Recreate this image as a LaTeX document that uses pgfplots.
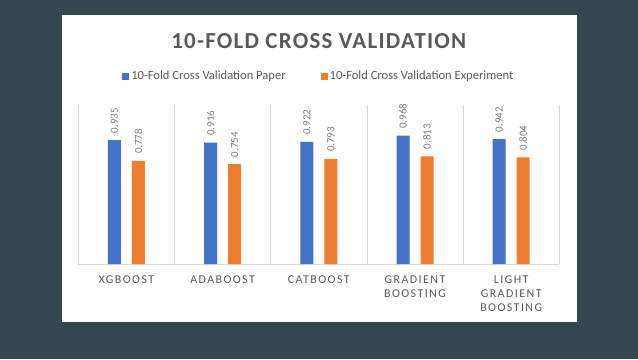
\documentclass[border=0pt]{standalone}
\usepackage{pgfplots}
\pgfplotsset{compat=1.18}
\usepackage{fontspec}
\setmainfont{Carlito}
\newfontfamily\titlefont[LetterSpace=5.5]{Carlito}
\newfontfamily\catfont[LetterSpace=12]{Carlito}
\definecolor{bg}{RGB}{52,71,79}
\definecolor{txtgray}{HTML}{595959}
\definecolor{valgray}{HTML}{7F7F7F}
\definecolor{gridgray}{HTML}{D9D9D9}
\definecolor{cblue}{HTML}{4472C4}
\definecolor{corange}{HTML}{ED7D31}
\begin{document}
\begin{tikzpicture}[x=1bp,y=1bp]
\useasboundingbox (0,0) rectangle (638,359);
\fill[bg] (0,0) rectangle (638,359);
\fill[white] (62,37) rectangle (576.5,344);
\node[anchor=base, text=txtgray, font=\titlefont\bfseries\fontsize{23}{27}\selectfont] at (318.8,310.7) {10-FOLD CROSS VALIDATION};
\begin{axis}[
  at={(78.3bp,95bp)}, anchor=south west,
  scale only axis, width=481bp, height=159bp,
  ybar=11bp, bar width=13bp,
  xmin=-0.5, xmax=4.5, ymin=0, ymax=1.2,
  xtick={0,1,2,3,4},
  xticklabels={XGBOOST, ADABOOST, CATBOOST, {GRADIENT\\BOOSTING}, {LIGHT\\GRADIENT\\BOOSTING}},
  xticklabel style={align=center, inner sep=0pt, yshift=-12bp, text=txtgray, font=\catfont\fontsize{12}{14}\selectfont},
  minor xtick={-0.5,0.5,1.5,2.5,3.5,4.5},
  xminorgrids, minor grid style={draw=gridgray, line width=0.8bp},
  ytick={0}, yticklabels={}, ymajorgrids, major grid style={draw=gridgray, line width=0.8bp},
  axis line style={draw=none},
  major tick length=0pt, minor tick length=0pt,
  clip=false,
  /pgf/number format/.cd, fixed, fixed zerofill, precision=3, assume math mode=true, /pgfplots/.cd,
  nodes near coords,
  every node near coord/.append style={rotate=90, anchor=west, inner sep=0pt, outer xsep=7bp, text=valgray, font=\fontsize{11}{13}\selectfont},
  legend columns=2,
  legend style={at={(0.5,1.182)}, anchor=center, draw=none, fill=none, text=txtgray,
    font=\fontsize{12.6}{15}\selectfont,
    /tikz/every even column/.append style={column sep=33bp}},
  legend image code/.code={\fill[#1] (0bp,-3.5bp) rectangle (7bp,3.5bp);},
]
\addplot[fill=cblue, draw=none] coordinates {(0,0.935) (1,0.916) (2,0.922) (3,0.968) (4,0.942)};
\addplot[fill=corange, draw=none] coordinates {(0,0.778) (1,0.754) (2,0.793) (3,0.813) (4,0.804)};
\legend{10-Fold Cross Validation Paper, 10-Fold Cross Validation Experiment}
\end{axis}
\end{tikzpicture}
\end{document}
